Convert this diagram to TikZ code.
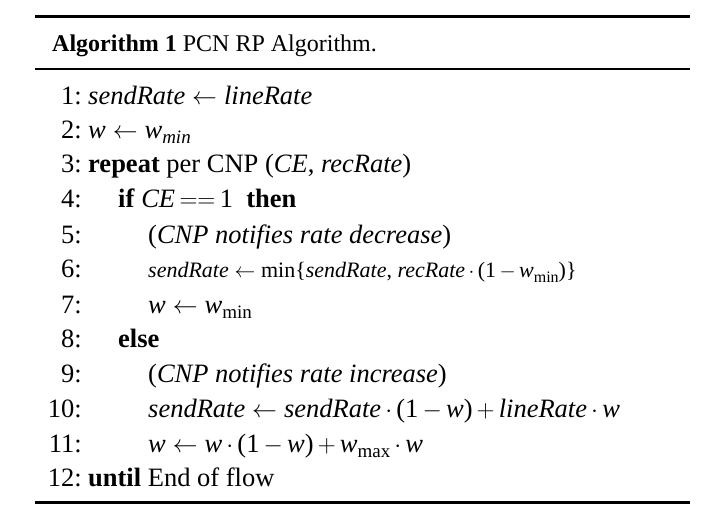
\documentclass[tikz,border=0pt]{standalone}
\usepackage{fontspec}
\setmainfont{Liberation Serif}
\newcommand{\sbs}[1]{\raisebox{-0.4ex}{\fontsize{19}{19}\selectfont #1}}
\newcommand{\sbsm}[1]{\raisebox{-0.4ex}{\fontsize{16}{16}\selectfont #1}}
\newcommand{\la}{\ensuremath{\;\leftarrow\;}}
\newcommand{\mn}{\ensuremath{\,-\,}}
\newcommand{\pl}{\ensuremath{\,+\,}}
\newcommand{\cd}{\ensuremath{\,\cdot\,}}
\begin{document}
\begin{tikzpicture}[x=1pt,y=-1pt,
  ttl/.style={anchor=base west,inner sep=0pt,font=\fontsize{24}{26}\selectfont},
  txt/.style={anchor=base west,inner sep=0pt,font=\fontsize{26.5}{28}\selectfont},
  small/.style={anchor=base west,inner sep=0pt,font=\fontsize{22}{24}\selectfont},
  num/.style={anchor=base east,inner sep=0pt,font=\fontsize{26.5}{28}\selectfont}]
\useasboundingbox (0,0) rectangle (710,526);
\draw[line width=3pt] (35,17) -- (690,17);
\draw[line width=1.5pt] (35,69) -- (690,69);
\draw[line width=3pt] (35,503) -- (690,503);
\node[ttl] (t) at (52,52) {\textbf{Algorithm 1} PCN RP Algorithm.};
\foreach \i/\y in {1/105,2/139,3/173,4/208,5/244,6/278,7/314,8/348,9/383,10/418,11/453,12/487}
  \node[num] (n\i) at (82,\y) {\i:};
\node[txt] (l1) at (88,105) {\textit{sendRate}\la\textit{lineRate}};
\node[txt] (l2) at (88,139) {\textit{w}\la\textit{w}\sbs{\textit{min}}};
\node[txt] (l3) at (88,173) {\textbf{repeat} per CNP (\textit{CE}, \textit{recRate})};
\node[txt] (l4) at (118,208) {\textbf{if} \textit{CE}\,\ensuremath{==}\,1 \ \textbf{then}};
\node[txt] (l5) at (148,244) {(\textit{CNP notifies rate decrease})};
\node[small] (l6) at (148,278) {\textit{sendRate}\la min\{\textit{sendRate}, \textit{recRate}\cd(1\mn\textit{w}\sbsm{min})\}};
\node[txt] (l7) at (148,314) {\textit{w}\la\textit{w}\sbs{min}};
\node[txt] (l8) at (118,348) {\textbf{else}};
\node[txt] (l9) at (148,383) {(\textit{CNP notifies rate increase})};
\node[txt] (l10) at (148,418) {\textit{sendRate}\la\textit{sendRate}\cd(1\mn\textit{w})\pl\textit{lineRate}\cd\textit{w}};
\node[txt] (l11) at (148,453) {\textit{w}\la\textit{w}\cd(1\mn\textit{w})\pl\textit{w}\sbs{max}\cd\textit{w}};
\node[txt] (l12) at (88,487) {\textbf{until} End of flow};
\end{tikzpicture}
\end{document}
